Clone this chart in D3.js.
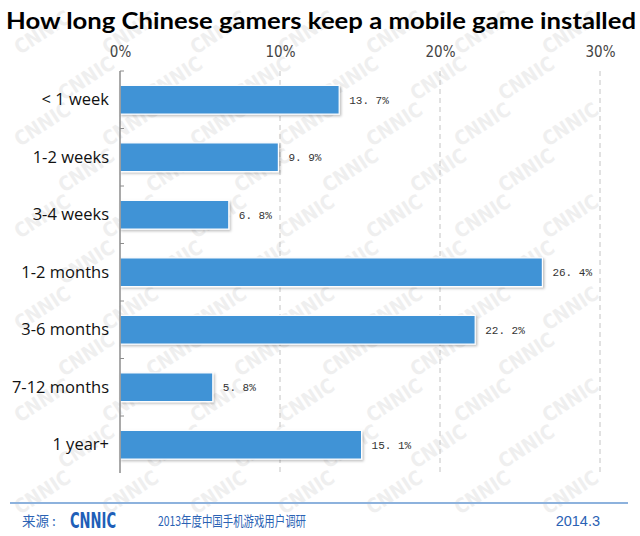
<!DOCTYPE html>
<html><head><meta charset="utf-8">
<script src="https://cdn.jsdelivr.net/npm/d3@7"></script>
<style>html,body{margin:0;padding:0;background:#fff;}svg{display:block;}</style>
</head><body>
<svg id="c" width="640" height="536"></svg>
<script>
const categories = ["< 1 week","1-2 weeks","3-4 weeks","1-2 months","3-6 months","7-12 months","1 year+"];
const values = [13.7, 9.9, 6.8, 26.4, 22.2, 5.8, 15.1];
const valueLabels = ["13. 7%","9. 9%","6. 8%","26. 4%","22. 2%","5. 8%","15. 1%"];
const xTicks = [0, 10, 20, 30];
const xTickLabels = ["0%","10%","20%","30%"];
const title = "How long Chinese gamers keep a mobile game installed";
const footerSource = "来源 :";
const footerLogo = "CNNIC";
const footerSurvey = "2013年度中国手机游戏用户调研";
const footerDate = "2014.3";
const watermark = "CNNIC";

const svg = d3.select("#c");

// watermark (kept fully inside the canvas)
const wm = svg.append("g").attr("fill", "#efefef").attr("font-family", "'DejaVu Sans Condensed', sans-serif")
  .attr("font-weight", "bold").attr("font-size", 20);
for (let r = 0; r < 12; r++) {
  for (let c = 0; c < 9; c++) {
    const px = 20 + c * 88 + (r % 2) * 44;
    const py = 55 + r * 46;
    if (px < 5 || px + 56 > 635 || py - 36 < 3 || py > 532) continue;
    wm.append("text").attr("transform", `translate(${px},${py}) rotate(-33)`)
      .attr("textLength", 62).attr("lengthAdjust", "spacingAndGlyphs").text(watermark);
  }
}

const x = d3.scaleLinear().domain([0, 30]).range([120, 600]);
const y = d3.scaleBand().domain(categories).range([71, 473.5]).paddingInner(0.5).paddingOuter(0.25);

// gridlines
svg.append("g").selectAll("line").data(xTicks.filter(d => d > 0)).join("line")
  .attr("x1", d => x(d)).attr("x2", d => x(d)).attr("y1", 71).attr("y2", 473)
  .attr("stroke", "#c4c4c4").attr("stroke-dasharray", "5,4").attr("stroke-width", 1);

// top axis
const xAxis = d3.axisTop(x).tickValues(xTicks).tickFormat((d, i) => xTickLabels[i]).tickSize(0).tickPadding(0);
const gx = svg.append("g").attr("transform", "translate(0,57)").call(xAxis);
gx.select(".domain").remove();
gx.selectAll("text").attr("font-family", "'Liberation Sans Narrow', 'DejaVu Sans Condensed', sans-serif")
  .attr("font-size", 15).attr("fill", "#444");

// bars shadow
const shadow = svg.append("defs").append("filter").attr("id", "sh").attr("x", "-5%").attr("y", "-20%").attr("width", "115%").attr("height", "160%");
shadow.append("feDropShadow").attr("dx", 1.5).attr("dy", 1.5).attr("stdDeviation", 1).attr("flood-color", "#000").attr("flood-opacity", 0.25);

svg.append("g").selectAll("rect").data(values).join("rect")
  .attr("x", x(0)).attr("y", (d, i) => y(categories[i]))
  .attr("width", d => x(d) - x(0)).attr("height", y.bandwidth())
  .attr("fill", "#4193d6").attr("stroke", "#fff").attr("stroke-width", 1.2)
  .attr("filter", "url(#sh)");

// left axis
const yAxis = d3.axisLeft(y).tickSize(0).tickPadding(11);
const gy = svg.append("g").attr("transform", `translate(${x(0)},0)`).call(yAxis);
gy.select(".domain").remove();
gy.selectAll("text").attr("font-family", "'Open Sans', Lato, sans-serif").attr("font-size", 16.5).attr("fill", "#111");
svg.append("line").attr("x1", x(0)).attr("x2", x(0)).attr("y1", 71).attr("y2", 473)
  .attr("stroke", "#8c8c8c").attr("stroke-width", 1.5);
const bounds = categories.map(c => y(c) - y.step() * y.paddingInner() / 2);
svg.append("g").selectAll("line").data(bounds).join("line")
  .attr("x1", x(0)).attr("x2", x(0) + 4).attr("y1", d => d).attr("y2", d => d)
  .attr("stroke", "#8c8c8c").attr("stroke-width", 1);

// value labels
svg.append("g").selectAll("text").data(values).join("text")
  .attr("x", d => x(d) + 10).attr("y", (d, i) => y(categories[i]) + y.bandwidth() / 2 + 4)
  .attr("font-family", "'Liberation Mono', 'DejaVu Sans Mono', monospace").attr("font-size", 11)
  .attr("fill", "#333").text((d, i) => valueLabels[i]);

// title
svg.append("text").attr("x", 321).attr("y", 29).attr("text-anchor", "middle")
  .attr("font-family", "Lato, sans-serif").attr("font-weight", "bold").attr("font-size", 23.5)
  .attr("fill", "#000").attr("textLength", 630).attr("lengthAdjust", "spacingAndGlyphs").text(title);

// footer
svg.append("line").attr("x1", 10).attr("x2", 628).attr("y1", 503).attr("y2", 503)
  .attr("stroke", "#8db2dd").attr("stroke-width", 2);
const fc = "#2a62b4";
svg.append("text").attr("x", 22).attr("y", 526).attr("font-family", "'Noto Sans CJK SC', sans-serif")
  .attr("font-size", 13.5).attr("fill", fc).text(footerSource);
svg.append("text").attr("x", 70).attr("y", 528).attr("font-family", "'DejaVu Sans Condensed', 'Liberation Sans Narrow', sans-serif")
  .attr("font-weight", "bold").attr("font-size", 22).attr("fill", "#1f5fb8")
  .attr("textLength", 46).attr("lengthAdjust", "spacingAndGlyphs").text(footerLogo);
svg.append("text").attr("x", 158).attr("y", 526).attr("font-family", "'Noto Sans CJK SC', sans-serif")
  .attr("font-size", 13.5).attr("fill", fc).attr("textLength", 148).attr("lengthAdjust", "spacingAndGlyphs").text(footerSurvey);
svg.append("text").attr("x", 600).attr("y", 526).attr("text-anchor", "end").attr("font-family", "'Liberation Sans', sans-serif")
  .attr("font-size", 14.5).attr("fill", fc).text(footerDate);
</script>
</body></html>
